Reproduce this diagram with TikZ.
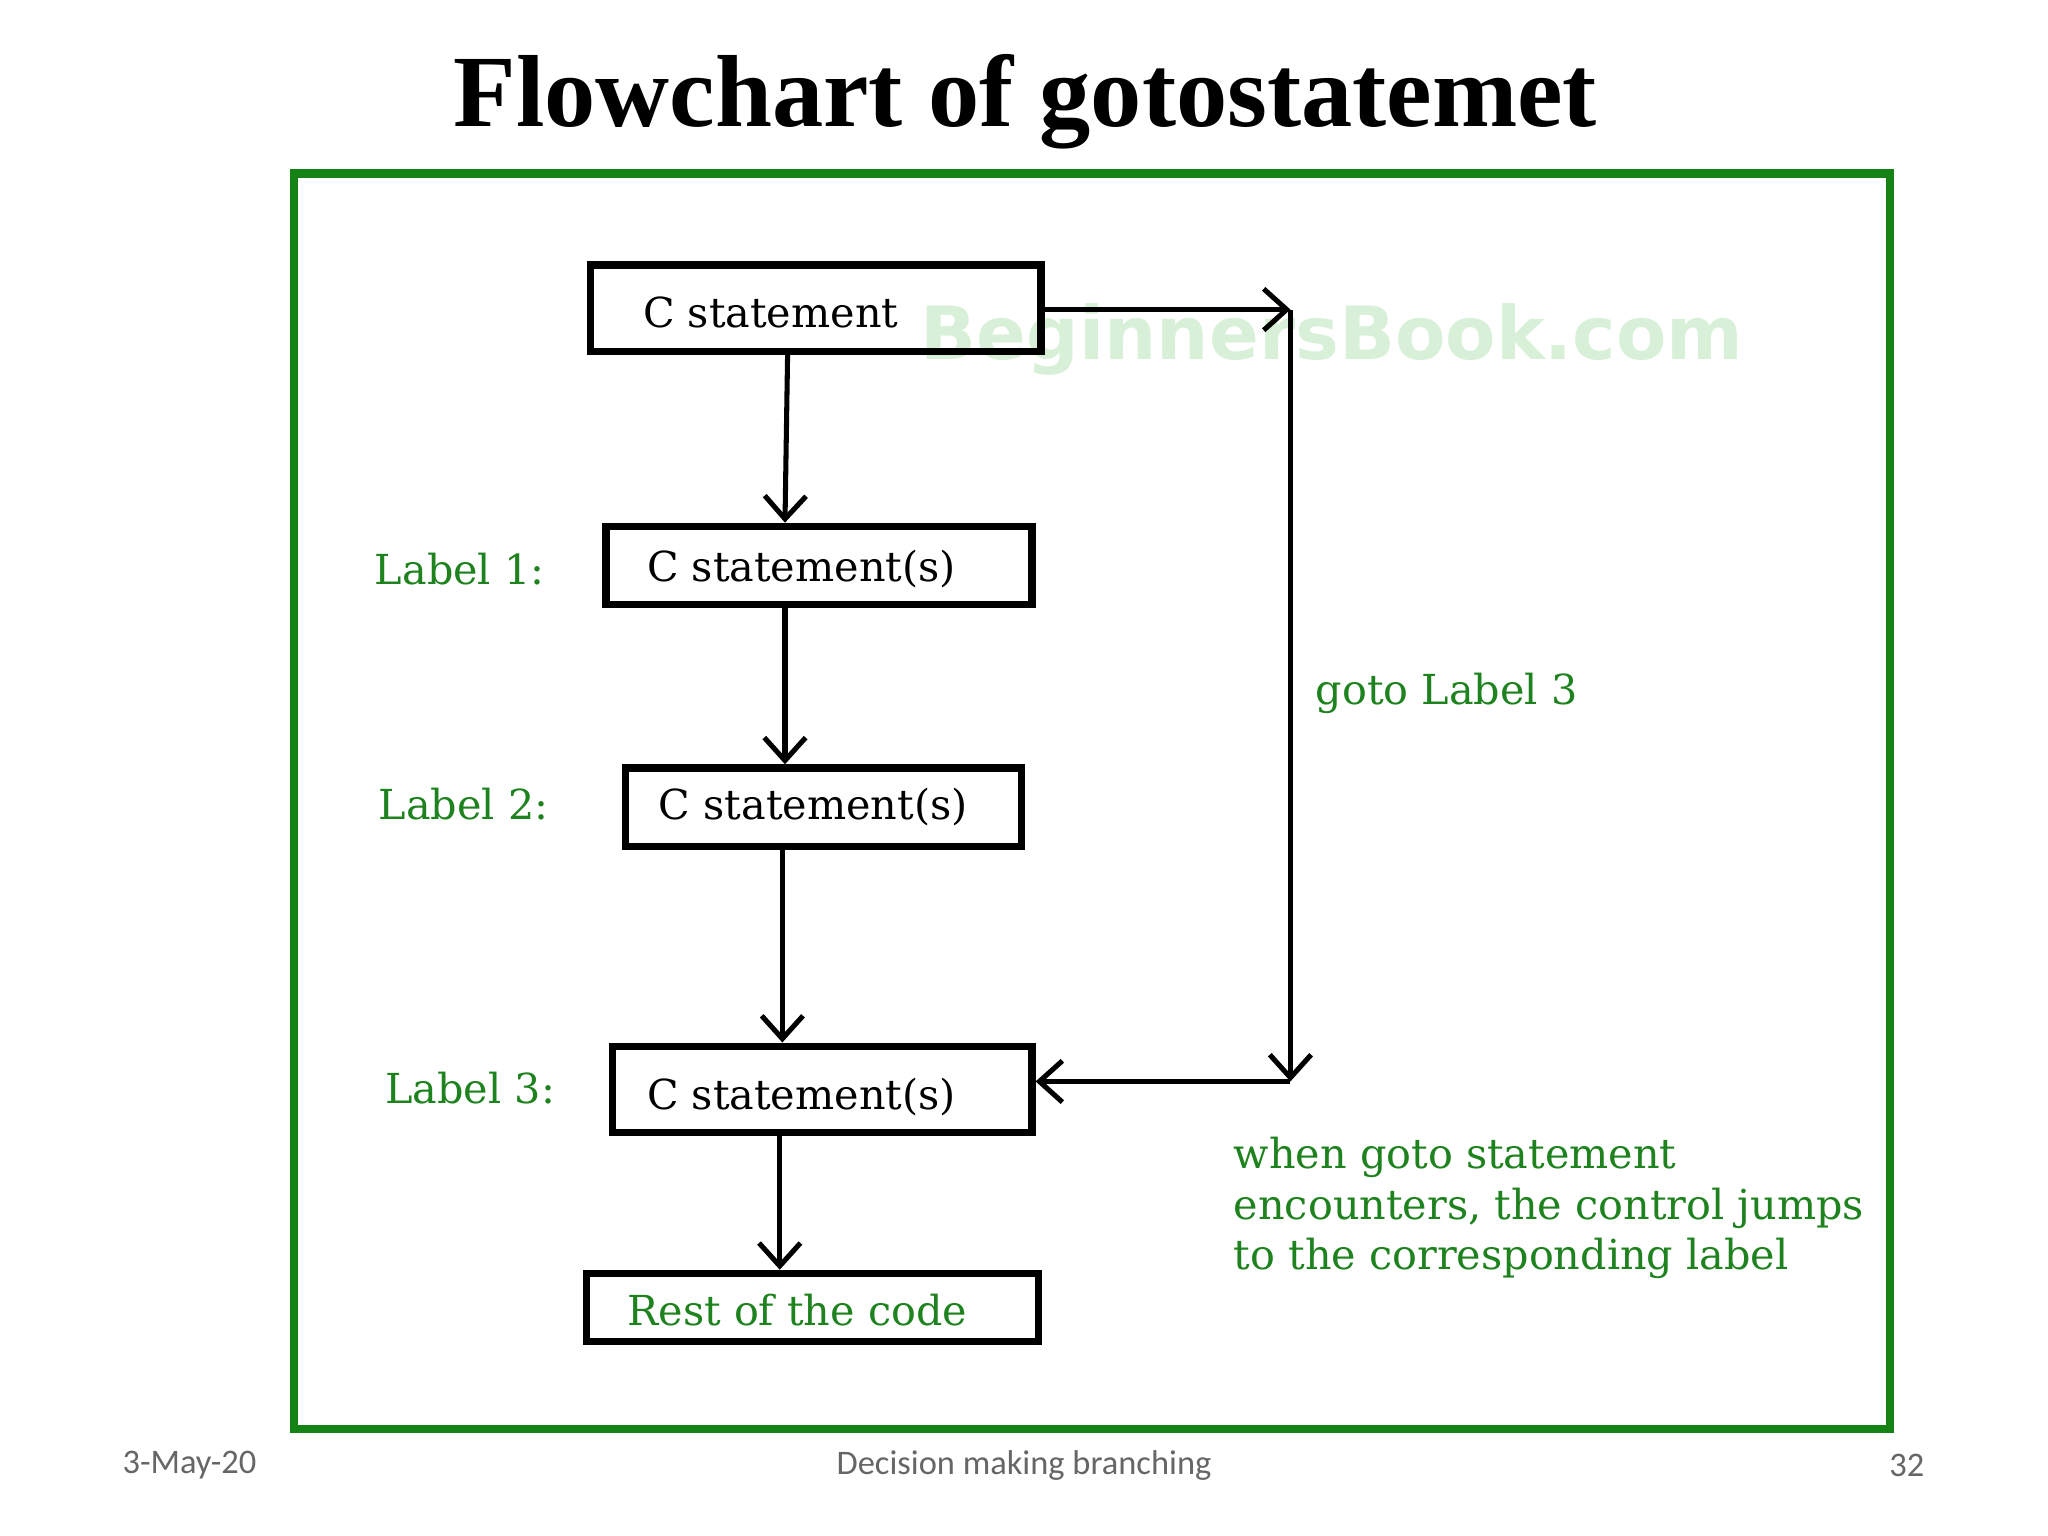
\documentclass[tikz,border=0pt]{standalone}
\usepackage{fontspec}
\setmainfont{DejaVu Serif}
\newfontfamily\titlefont{Liberation Serif}
\newfontfamily\footfont{Carlito}
\newfontfamily\wmfont{DejaVu Sans}
\usetikzlibrary{arrows.meta}
\definecolor{fgreen}{RGB}{20,130,20}
\definecolor{tgreen}{RGB}{30,130,30}
\definecolor{wm}{RGB}{215,240,215}
\begin{document}
\begin{tikzpicture}[x=0.01cm,y=-0.01cm,
  box/.style={draw,line width=1.6pt,inner sep=0pt},
  txt/.style={font=\fontsize{9}{11}\selectfont,anchor=west},
  lbl/.style={font=\fontsize{9}{11}\selectfont,text=tgreen},
  arr/.style={line width=1.1pt,-{Straight Barb[length=5pt,width=9pt,line width=1.1pt]}},
  foot/.style={font=\footfont\fontsize{7.5}{9}\selectfont,text=black!60}]
\useasboundingbox (0,0) rectangle (1568,1176);
\node[font=\titlefont\bfseries\fontsize{22.3}{26}\selectfont] (title) at (785,78) {Flowchart of gotostatemet};
\draw[fgreen,line width=1.9pt] (225,133) rectangle (1447,1094);
\node[font=\wmfont\bfseries\fontsize{16}{20}\selectfont,text=wm] (wmk) at (1020,260) {BeginnersBook.com};
\node[box,minimum width=3.45cm,minimum height=0.66cm] (b1) at (624.5,236) {};
\node[txt] at (480,239) {C statement};
\node[box,minimum width=3.26cm,minimum height=0.60cm] (b2) at (627,433) {};
\node[txt] at (483,436) {C statement(s)};
\node[box,minimum width=3.03cm,minimum height=0.60cm] (b3) at (630.5,618) {};
\node[txt] at (492,618) {C statement(s)};
\node[box,minimum width=3.21cm,minimum height=0.66cm] (b4) at (629.5,834) {};
\node[txt] at (483,840) {C statement(s)};
\node[box,minimum width=3.46cm,minimum height=0.52cm] (b5) at (622,1001) {};
\node[txt,text=tgreen] at (468,1003) {Rest of the code};
\node[lbl] (l1) at (352,436) {Label 1:};
\node[lbl] (l2) at (355,616) {Label 2:};
\node[lbl] (l3) at (360,833) {Label 3:};
\node[lbl,anchor=west] (g) at (995,531) {goto Label 3};
\node[lbl,anchor=north west,align=left,inner sep=0pt] (note) at (944,870) {when goto statement\\encounters, the control jumps\\to the corresponding label};
\coordinate (c1) at (988,237);
\coordinate (c2) at (988,828);
\draw[arr] (b1.south -| 603,0) -- (b2.north -| 601,0);
\draw[arr] (b2.south -| 601,0) -- (b3.north -| 601,0);
\draw[arr] (b3.south -| 599,0) -- (b4.north -| 599,0);
\draw[arr] (b4.south -| 597,0) -- (b5.north -| 597,0);
\draw[arr] (b1.east |- c1) -- (c1);
\draw[arr] (c1) -- (c2);
\draw[arr] (c2) -- (b4.east |- c2);
\node[foot] (f1) at (145,1122) {3-May-20};
\node[foot] (f2) at (784,1122) {Decision making branching};
\node[foot] (f3) at (1460,1122) {32};
\end{tikzpicture}
\end{document}
